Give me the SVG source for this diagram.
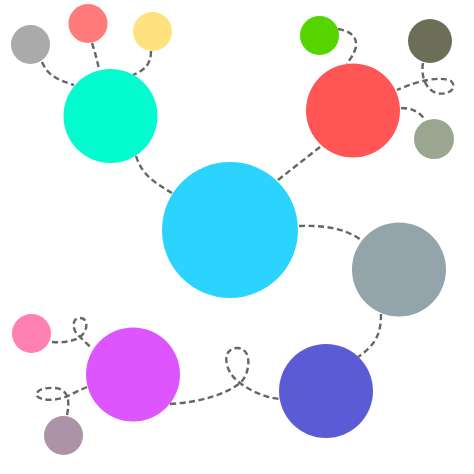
<svg xmlns="http://www.w3.org/2000/svg" width="474" height="474" viewBox="0 0 474 474">
<style>
.c{fill:none;stroke:#666;stroke-width:2.4;stroke-dasharray:6 3.5;stroke-linecap:butt}
</style>
<rect width="474" height="474" fill="#fff"/>
<g id="connectors">
<path class="c" d="M42,62 C48,76 58,80 74,85"/>
<path class="c" d="M92,43 C95,52 97,60 99,69"/>
<path class="c" d="M151,51 C151,64 145,70 133,75"/>
<path class="c" d="M136,156 C142,175 155,183 172,193"/>
<path class="c" d="M338,29 C356,32 358,42 355,50 C352,58 349,60 347,64"/>
<path class="c" d="M423,63 C421,74 424,88 436,93 C449,96 458,88 451,81 C440,76 420,80 397,90"/>
<path class="c" d="M401,108 C412,108 420,112 425,120"/>
<path class="c" d="M278,180 L320,147"/>
<path class="c" d="M299,226 C322,225 345,228 361,240"/>
<path class="c" d="M381,314 C381,335 375,345 358,357"/>
<path class="c" d="M52,342 C64,343 74,341 80,337 C88,331 89,318 80,318 C71,318 72,331 80,337 C84,341 88,345 92,348"/>
<path class="c" d="M87,387 C80,390 74,393 68,396 C60,400 42,402 37,396 C34,389 50,386 60,389 C68,393 70,400 67,415"/>
<path class="c" d="M170,404 C200,402 225,395 240,383 C250,375 253,349 238,348 C222,347 222,370 240,383 C252,392 265,397 279,399"/>
</g>
<g id="center"><circle cx="230" cy="230" r="68" fill="#2bd4ff"/></g>
<g id="teal"><circle cx="110.5" cy="116" r="47" fill="#03fbcf"/></g>
<g id="gray"><circle cx="30.5" cy="44.5" r="19.5" fill="#aaaaaa"/></g>
<g id="salmon"><circle cx="88" cy="23.5" r="19.5" fill="#ff7b7b"/></g>
<g id="yellow"><circle cx="152.5" cy="31.5" r="19.5" fill="#ffe280"/></g>
<g id="red"><circle cx="353" cy="110.5" r="47" fill="#ff5555"/></g>
<g id="green"><circle cx="319.5" cy="35.5" r="19.5" fill="#55d400"/></g>
<g id="olive"><circle cx="430" cy="41" r="22" fill="#6c6e58"/></g>
<g id="sage"><circle cx="434" cy="139" r="20" fill="#9ba690"/></g>
<g id="slate"><circle cx="399" cy="269.5" r="47" fill="#93a5aa"/></g>
<g id="navy"><circle cx="326" cy="391" r="47" fill="#5b5bd6"/></g>
<g id="purple"><circle cx="133" cy="374.5" r="47" fill="#dd55ff"/></g>
<g id="pink"><circle cx="31.5" cy="333.5" r="19.5" fill="#ff80b2"/></g>
<g id="mauve"><circle cx="63.5" cy="435.5" r="19.5" fill="#ac93a7"/></g>
</svg>
